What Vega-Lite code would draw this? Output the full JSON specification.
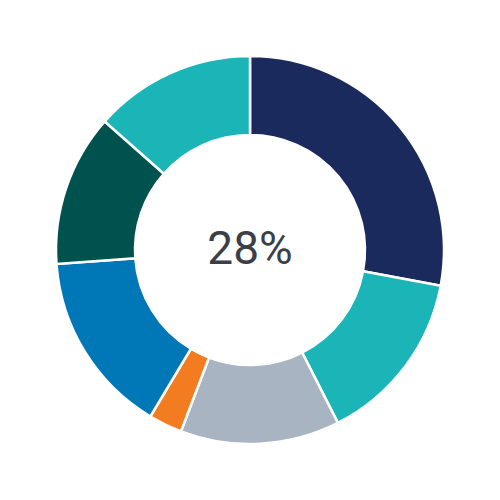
{
  "$schema": "https://vega.github.io/schema/vega-lite/v6.json",
  "width": 500,
  "height": 500,
  "padding": 0,
  "autosize": {"type": "fit", "contains": "padding"},
  "view": {"stroke": null},
  "data": {
    "values": [
      {"segment": "A", "idx": 1, "share": 28.0, "color": "#1b2a5c"},
      {"segment": "B", "idx": 2, "share": 14.6, "color": "#1bb5b8"},
      {"segment": "C", "idx": 3, "share": 13.3, "color": "#a9b4c2"},
      {"segment": "D", "idx": 4, "share": 2.8, "color": "#f47c20"},
      {"segment": "E", "idx": 5, "share": 15.3, "color": "#0077b6"},
      {"segment": "F", "idx": 6, "share": 12.7, "color": "#00524f"},
      {"segment": "G", "idx": 7, "share": 13.5, "color": "#1bb5b8"}
    ]
  },
  "layer": [
    {
      "mark": {"type": "arc", "outerRadius": 194, "innerRadius": 115, "stroke": "#ffffff", "strokeWidth": 2.5},
      "encoding": {
        "theta": {"field": "share", "type": "quantitative", "stack": true},
        "order": {"field": "idx", "type": "quantitative"},
        "color": {"field": "color", "type": "nominal", "scale": null, "legend": null}
      }
    },
    {
      "data": {"values": [{"label": "28%"}]},
      "mark": {"type": "text", "fontSize": 46, "font": "Roboto", "color": "#3b3f48", "align": "center", "baseline": "middle", "dy": 0},
      "encoding": {"text": {"field": "label"}}
    }
  ]
}
